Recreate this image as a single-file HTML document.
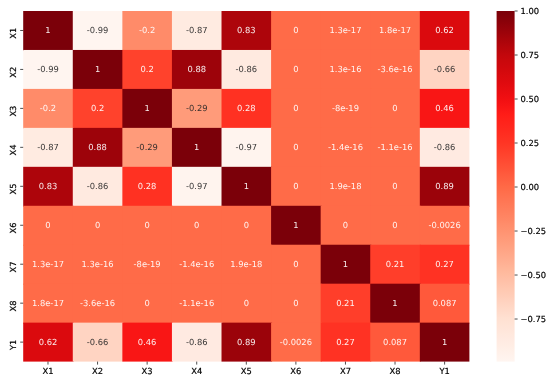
<!DOCTYPE html>
<html><head><meta charset="utf-8"><title>Correlation heatmap</title>
<style>
html,body{margin:0;padding:0;background:#fff;}
body{width:550px;height:380px;overflow:hidden;}
svg{display:block;}
text{font-family:"DejaVu Sans","Liberation Sans",sans-serif;font-size:8.35px;text-rendering:geometricPrecision;}
.a{text-anchor:middle;}
.w{fill:#fff;fill-opacity:.93;}
.d{fill:#262626;fill-opacity:.92;}
.k{fill:#000;stroke:#000;stroke-width:.18px;}
</style></head>
<body>
<svg width="550" height="380" viewBox="0 0 550 380">
<rect x="0" y="0" width="550" height="380" fill="#fff"/>
<defs><linearGradient id="cb" x1="0" y1="0" x2="0" y2="1"><stop offset="0.0000" stop-color="#7b0009"/><stop offset="0.0156" stop-color="#820109"/><stop offset="0.0312" stop-color="#8b0109"/><stop offset="0.0469" stop-color="#94020a"/><stop offset="0.0625" stop-color="#9d030a"/><stop offset="0.0781" stop-color="#a7040a"/><stop offset="0.0938" stop-color="#b0050b"/><stop offset="0.1094" stop-color="#b9060b"/><stop offset="0.1250" stop-color="#c2070c"/><stop offset="0.1406" stop-color="#c9080c"/><stop offset="0.1562" stop-color="#ce080d"/><stop offset="0.1719" stop-color="#d4090d"/><stop offset="0.1875" stop-color="#da0a0e"/><stop offset="0.2031" stop-color="#df0a0f"/><stop offset="0.2188" stop-color="#e50c10"/><stop offset="0.2344" stop-color="#eb0d11"/><stop offset="0.2500" stop-color="#f10f12"/><stop offset="0.2656" stop-color="#f61314"/><stop offset="0.2812" stop-color="#fb1816"/><stop offset="0.2969" stop-color="#ff1d18"/><stop offset="0.3125" stop-color="#ff221a"/><stop offset="0.3281" stop-color="#ff261d"/><stop offset="0.3438" stop-color="#ff2b1f"/><stop offset="0.3594" stop-color="#ff3022"/><stop offset="0.3750" stop-color="#ff3524"/><stop offset="0.3906" stop-color="#ff3b28"/><stop offset="0.4062" stop-color="#ff422c"/><stop offset="0.4219" stop-color="#ff4831"/><stop offset="0.4375" stop-color="#ff4f35"/><stop offset="0.4531" stop-color="#ff5539"/><stop offset="0.4688" stop-color="#ff5c3e"/><stop offset="0.4844" stop-color="#ff6242"/><stop offset="0.5000" stop-color="#ff6946"/><stop offset="0.5156" stop-color="#ff6e4b"/><stop offset="0.5312" stop-color="#ff7351"/><stop offset="0.5469" stop-color="#ff7856"/><stop offset="0.5625" stop-color="#ff7d5b"/><stop offset="0.5781" stop-color="#ff8260"/><stop offset="0.5938" stop-color="#ff8765"/><stop offset="0.6094" stop-color="#ff8d6b"/><stop offset="0.6250" stop-color="#ff9270"/><stop offset="0.6406" stop-color="#ff9776"/><stop offset="0.6562" stop-color="#ff9c7b"/><stop offset="0.6719" stop-color="#ffa181"/><stop offset="0.6875" stop-color="#ffa687"/><stop offset="0.7031" stop-color="#ffab8d"/><stop offset="0.7188" stop-color="#ffb093"/><stop offset="0.7344" stop-color="#ffb699"/><stop offset="0.7500" stop-color="#ffbb9f"/><stop offset="0.7656" stop-color="#ffbfa6"/><stop offset="0.7812" stop-color="#ffc4ac"/><stop offset="0.7969" stop-color="#ffc9b2"/><stop offset="0.8125" stop-color="#ffcdb8"/><stop offset="0.8281" stop-color="#ffd2bf"/><stop offset="0.8438" stop-color="#ffd7c5"/><stop offset="0.8594" stop-color="#ffdbcb"/><stop offset="0.8750" stop-color="#ffe0d1"/><stop offset="0.8906" stop-color="#ffe3d5"/><stop offset="0.9062" stop-color="#ffe5d9"/><stop offset="0.9219" stop-color="#ffe8dd"/><stop offset="0.9375" stop-color="#ffeae1"/><stop offset="0.9531" stop-color="#ffede4"/><stop offset="0.9688" stop-color="#fff0e8"/><stop offset="0.9844" stop-color="#fff2ec"/><stop offset="1.0000" stop-color="#fff5f0"/></linearGradient></defs>
<g>
<rect x="23.20" y="11.00" width="50.58" height="39.96" fill="#7b0009"/>
<rect x="72.78" y="11.00" width="50.58" height="39.96" fill="#fff5f0"/>
<rect x="122.36" y="11.00" width="50.58" height="39.96" fill="#ff8b69"/>
<rect x="171.93" y="11.00" width="50.58" height="39.96" fill="#ffebe1"/>
<rect x="221.51" y="11.00" width="50.58" height="39.96" fill="#ad050b"/>
<rect x="271.09" y="11.00" width="50.58" height="39.96" fill="#ff6b48"/>
<rect x="320.67" y="11.00" width="50.58" height="39.96" fill="#ff6b48"/>
<rect x="370.24" y="11.00" width="50.58" height="39.96" fill="#ff6b48"/>
<rect x="419.82" y="11.00" width="49.58" height="39.96" fill="#db0a0e"/>
<rect x="23.20" y="49.96" width="50.58" height="39.96" fill="#fff5f0"/>
<rect x="72.78" y="49.96" width="50.58" height="39.96" fill="#7b0009"/>
<rect x="122.36" y="49.96" width="50.58" height="39.96" fill="#ff422c"/>
<rect x="171.93" y="49.96" width="50.58" height="39.96" fill="#9d030a"/>
<rect x="221.51" y="49.96" width="50.58" height="39.96" fill="#ffeae0"/>
<rect x="271.09" y="49.96" width="50.58" height="39.96" fill="#ff6b48"/>
<rect x="320.67" y="49.96" width="50.58" height="39.96" fill="#ff6b48"/>
<rect x="370.24" y="49.96" width="50.58" height="39.96" fill="#ff6b48"/>
<rect x="419.82" y="49.96" width="49.58" height="39.96" fill="#ffd4c2"/>
<rect x="23.20" y="88.91" width="50.58" height="39.96" fill="#ff8b69"/>
<rect x="72.78" y="88.91" width="50.58" height="39.96" fill="#ff422c"/>
<rect x="122.36" y="88.91" width="50.58" height="39.96" fill="#7b0009"/>
<rect x="171.93" y="88.91" width="50.58" height="39.96" fill="#ff9b7a"/>
<rect x="221.51" y="88.91" width="50.58" height="39.96" fill="#ff3122"/>
<rect x="271.09" y="88.91" width="50.58" height="39.96" fill="#ff6b48"/>
<rect x="320.67" y="88.91" width="50.58" height="39.96" fill="#ff6b48"/>
<rect x="370.24" y="88.91" width="50.58" height="39.96" fill="#ff6b48"/>
<rect x="419.82" y="88.91" width="49.58" height="39.96" fill="#f91615"/>
<rect x="23.20" y="127.87" width="50.58" height="39.96" fill="#ffebe1"/>
<rect x="72.78" y="127.87" width="50.58" height="39.96" fill="#9d030a"/>
<rect x="122.36" y="127.87" width="50.58" height="39.96" fill="#ff9b7a"/>
<rect x="171.93" y="127.87" width="50.58" height="39.96" fill="#7b0009"/>
<rect x="221.51" y="127.87" width="50.58" height="39.96" fill="#fff4ee"/>
<rect x="271.09" y="127.87" width="50.58" height="39.96" fill="#ff6b48"/>
<rect x="320.67" y="127.87" width="50.58" height="39.96" fill="#ff6b48"/>
<rect x="370.24" y="127.87" width="50.58" height="39.96" fill="#ff6b48"/>
<rect x="419.82" y="127.87" width="49.58" height="39.96" fill="#ffeae1"/>
<rect x="23.20" y="166.82" width="50.58" height="39.96" fill="#ad050b"/>
<rect x="72.78" y="166.82" width="50.58" height="39.96" fill="#ffeae0"/>
<rect x="122.36" y="166.82" width="50.58" height="39.96" fill="#ff3122"/>
<rect x="171.93" y="166.82" width="50.58" height="39.96" fill="#fff4ee"/>
<rect x="221.51" y="166.82" width="50.58" height="39.96" fill="#7b0009"/>
<rect x="271.09" y="166.82" width="50.58" height="39.96" fill="#ff6b48"/>
<rect x="320.67" y="166.82" width="50.58" height="39.96" fill="#ff6b48"/>
<rect x="370.24" y="166.82" width="50.58" height="39.96" fill="#ff6b48"/>
<rect x="419.82" y="166.82" width="49.58" height="39.96" fill="#9b030a"/>
<rect x="23.20" y="205.78" width="50.58" height="39.96" fill="#ff6b48"/>
<rect x="72.78" y="205.78" width="50.58" height="39.96" fill="#ff6b48"/>
<rect x="122.36" y="205.78" width="50.58" height="39.96" fill="#ff6b48"/>
<rect x="171.93" y="205.78" width="50.58" height="39.96" fill="#ff6b48"/>
<rect x="221.51" y="205.78" width="50.58" height="39.96" fill="#ff6b48"/>
<rect x="271.09" y="205.78" width="50.58" height="39.96" fill="#7b0009"/>
<rect x="320.67" y="205.78" width="50.58" height="39.96" fill="#ff6b48"/>
<rect x="370.24" y="205.78" width="50.58" height="39.96" fill="#ff6b48"/>
<rect x="419.82" y="205.78" width="49.58" height="39.96" fill="#ff6b48"/>
<rect x="23.20" y="244.73" width="50.58" height="39.96" fill="#ff6b48"/>
<rect x="72.78" y="244.73" width="50.58" height="39.96" fill="#ff6b48"/>
<rect x="122.36" y="244.73" width="50.58" height="39.96" fill="#ff6b48"/>
<rect x="171.93" y="244.73" width="50.58" height="39.96" fill="#ff6b48"/>
<rect x="221.51" y="244.73" width="50.58" height="39.96" fill="#ff6b48"/>
<rect x="271.09" y="244.73" width="50.58" height="39.96" fill="#ff6b48"/>
<rect x="320.67" y="244.73" width="50.58" height="39.96" fill="#7b0009"/>
<rect x="370.24" y="244.73" width="50.58" height="39.96" fill="#ff3e2a"/>
<rect x="419.82" y="244.73" width="49.58" height="39.96" fill="#ff3223"/>
<rect x="23.20" y="283.69" width="50.58" height="39.96" fill="#ff6b48"/>
<rect x="72.78" y="283.69" width="50.58" height="39.96" fill="#ff6b48"/>
<rect x="122.36" y="283.69" width="50.58" height="39.96" fill="#ff6b48"/>
<rect x="171.93" y="283.69" width="50.58" height="39.96" fill="#ff6b48"/>
<rect x="221.51" y="283.69" width="50.58" height="39.96" fill="#ff6b48"/>
<rect x="271.09" y="283.69" width="50.58" height="39.96" fill="#ff6b48"/>
<rect x="320.67" y="283.69" width="50.58" height="39.96" fill="#ff3e2a"/>
<rect x="370.24" y="283.69" width="50.58" height="39.96" fill="#7b0009"/>
<rect x="419.82" y="283.69" width="49.58" height="39.96" fill="#ff593b"/>
<rect x="23.20" y="322.64" width="50.58" height="38.96" fill="#db0a0e"/>
<rect x="72.78" y="322.64" width="50.58" height="38.96" fill="#ffd4c2"/>
<rect x="122.36" y="322.64" width="50.58" height="38.96" fill="#f91615"/>
<rect x="171.93" y="322.64" width="50.58" height="38.96" fill="#ffeae1"/>
<rect x="221.51" y="322.64" width="50.58" height="38.96" fill="#9b030a"/>
<rect x="271.09" y="322.64" width="50.58" height="38.96" fill="#ff6b48"/>
<rect x="320.67" y="322.64" width="50.58" height="38.96" fill="#ff3223"/>
<rect x="370.24" y="322.64" width="50.58" height="38.96" fill="#ff593b"/>
<rect x="419.82" y="322.64" width="49.58" height="38.96" fill="#7b0009"/>
</g>
<g class="a">
<text class="w" x="47.99" y="32.93">1</text>
<text class="d" x="97.57" y="32.93">-0.99</text>
<text class="w" x="147.14" y="32.93">-0.2</text>
<text class="d" x="196.72" y="32.93">-0.87</text>
<text class="w" x="246.30" y="32.93">0.83</text>
<text class="w" x="295.88" y="32.93">0</text>
<text class="w" x="345.46" y="32.93">1.3e-17</text>
<text class="w" x="395.03" y="32.93">1.8e-17</text>
<text class="w" x="444.61" y="32.93">0.62</text>
<text class="d" x="47.99" y="71.88">-0.99</text>
<text class="w" x="97.57" y="71.88">1</text>
<text class="w" x="147.14" y="71.88">0.2</text>
<text class="w" x="196.72" y="71.88">0.88</text>
<text class="d" x="246.30" y="71.88">-0.86</text>
<text class="w" x="295.88" y="71.88">0</text>
<text class="w" x="345.46" y="71.88">1.3e-16</text>
<text class="w" x="395.03" y="71.88">-3.6e-16</text>
<text class="d" x="444.61" y="71.88">-0.66</text>
<text class="w" x="47.99" y="110.84">-0.2</text>
<text class="w" x="97.57" y="110.84">0.2</text>
<text class="w" x="147.14" y="110.84">1</text>
<text class="d" x="196.72" y="110.84">-0.29</text>
<text class="w" x="246.30" y="110.84">0.28</text>
<text class="w" x="295.88" y="110.84">0</text>
<text class="w" x="345.46" y="110.84">-8e-19</text>
<text class="w" x="395.03" y="110.84">0</text>
<text class="w" x="444.61" y="110.84">0.46</text>
<text class="d" x="47.99" y="149.79">-0.87</text>
<text class="w" x="97.57" y="149.79">0.88</text>
<text class="d" x="147.14" y="149.79">-0.29</text>
<text class="w" x="196.72" y="149.79">1</text>
<text class="d" x="246.30" y="149.79">-0.97</text>
<text class="w" x="295.88" y="149.79">0</text>
<text class="w" x="345.46" y="149.79">-1.4e-16</text>
<text class="w" x="395.03" y="149.79">-1.1e-16</text>
<text class="d" x="444.61" y="149.79">-0.86</text>
<text class="w" x="47.99" y="188.75">0.83</text>
<text class="d" x="97.57" y="188.75">-0.86</text>
<text class="w" x="147.14" y="188.75">0.28</text>
<text class="d" x="196.72" y="188.75">-0.97</text>
<text class="w" x="246.30" y="188.75">1</text>
<text class="w" x="295.88" y="188.75">0</text>
<text class="w" x="345.46" y="188.75">1.9e-18</text>
<text class="w" x="395.03" y="188.75">0</text>
<text class="w" x="444.61" y="188.75">0.89</text>
<text class="w" x="47.99" y="227.71">0</text>
<text class="w" x="97.57" y="227.71">0</text>
<text class="w" x="147.14" y="227.71">0</text>
<text class="w" x="196.72" y="227.71">0</text>
<text class="w" x="246.30" y="227.71">0</text>
<text class="w" x="295.88" y="227.71">1</text>
<text class="w" x="345.46" y="227.71">0</text>
<text class="w" x="395.03" y="227.71">0</text>
<text class="w" x="444.61" y="227.71">-0.0026</text>
<text class="w" x="47.99" y="266.66">1.3e-17</text>
<text class="w" x="97.57" y="266.66">1.3e-16</text>
<text class="w" x="147.14" y="266.66">-8e-19</text>
<text class="w" x="196.72" y="266.66">-1.4e-16</text>
<text class="w" x="246.30" y="266.66">1.9e-18</text>
<text class="w" x="295.88" y="266.66">0</text>
<text class="w" x="345.46" y="266.66">1</text>
<text class="w" x="395.03" y="266.66">0.21</text>
<text class="w" x="444.61" y="266.66">0.27</text>
<text class="w" x="47.99" y="305.62">1.8e-17</text>
<text class="w" x="97.57" y="305.62">-3.6e-16</text>
<text class="w" x="147.14" y="305.62">0</text>
<text class="w" x="196.72" y="305.62">-1.1e-16</text>
<text class="w" x="246.30" y="305.62">0</text>
<text class="w" x="295.88" y="305.62">0</text>
<text class="w" x="345.46" y="305.62">0.21</text>
<text class="w" x="395.03" y="305.62">1</text>
<text class="w" x="444.61" y="305.62">0.087</text>
<text class="w" x="47.99" y="344.57">0.62</text>
<text class="d" x="97.57" y="344.57">-0.66</text>
<text class="w" x="147.14" y="344.57">0.46</text>
<text class="d" x="196.72" y="344.57">-0.86</text>
<text class="w" x="246.30" y="344.57">0.89</text>
<text class="w" x="295.88" y="344.57">-0.0026</text>
<text class="w" x="345.46" y="344.57">0.27</text>
<text class="w" x="395.03" y="344.57">0.087</text>
<text class="w" x="444.61" y="344.57">1</text>
</g>
<g stroke="#000" stroke-width="0.7">
<line x1="20.20" y1="30.48" x2="23.20" y2="30.48"/>
<line x1="47.99" y1="361.60" x2="47.99" y2="364.60"/>
<line x1="20.20" y1="69.43" x2="23.20" y2="69.43"/>
<line x1="97.57" y1="361.60" x2="97.57" y2="364.60"/>
<line x1="20.20" y1="108.39" x2="23.20" y2="108.39"/>
<line x1="147.14" y1="361.60" x2="147.14" y2="364.60"/>
<line x1="20.20" y1="147.34" x2="23.20" y2="147.34"/>
<line x1="196.72" y1="361.60" x2="196.72" y2="364.60"/>
<line x1="20.20" y1="186.30" x2="23.20" y2="186.30"/>
<line x1="246.30" y1="361.60" x2="246.30" y2="364.60"/>
<line x1="20.20" y1="225.26" x2="23.20" y2="225.26"/>
<line x1="295.88" y1="361.60" x2="295.88" y2="364.60"/>
<line x1="20.20" y1="264.21" x2="23.20" y2="264.21"/>
<line x1="345.46" y1="361.60" x2="345.46" y2="364.60"/>
<line x1="20.20" y1="303.17" x2="23.20" y2="303.17"/>
<line x1="395.03" y1="361.60" x2="395.03" y2="364.60"/>
<line x1="20.20" y1="342.12" x2="23.20" y2="342.12"/>
<line x1="444.61" y1="361.60" x2="444.61" y2="364.60"/>
</g>
<g class="a k">
<text x="47.99" y="373.80">X1</text>
<text transform="translate(15.50 33.18) rotate(-90)" x="0" y="0">X1</text>
<text x="97.57" y="373.80">X2</text>
<text transform="translate(15.50 72.13) rotate(-90)" x="0" y="0">X2</text>
<text x="147.14" y="373.80">X3</text>
<text transform="translate(15.50 111.09) rotate(-90)" x="0" y="0">X3</text>
<text x="196.72" y="373.80">X4</text>
<text transform="translate(15.50 150.04) rotate(-90)" x="0" y="0">X4</text>
<text x="246.30" y="373.80">X5</text>
<text transform="translate(15.50 189.00) rotate(-90)" x="0" y="0">X5</text>
<text x="295.88" y="373.80">X6</text>
<text transform="translate(15.50 227.96) rotate(-90)" x="0" y="0">X6</text>
<text x="345.46" y="373.80">X7</text>
<text transform="translate(15.50 266.91) rotate(-90)" x="0" y="0">X7</text>
<text x="395.03" y="373.80">X8</text>
<text transform="translate(15.50 305.87) rotate(-90)" x="0" y="0">X8</text>
<text x="444.61" y="373.80">Y1</text>
<text transform="translate(15.50 344.82) rotate(-90)" x="0" y="0">Y1</text>
</g>
<rect x="496.60" y="11.00" width="18.00" height="350.60" fill="url(#cb)"/>
<g stroke="#000" stroke-width="0.7">
<line x1="514.60" y1="11.00" x2="517.60" y2="11.00"/>
<line x1="514.60" y1="55.00" x2="517.60" y2="55.00"/>
<line x1="514.60" y1="99.01" x2="517.60" y2="99.01"/>
<line x1="514.60" y1="143.01" x2="517.60" y2="143.01"/>
<line x1="514.60" y1="187.01" x2="517.60" y2="187.01"/>
<line x1="514.60" y1="231.02" x2="517.60" y2="231.02"/>
<line x1="514.60" y1="275.02" x2="517.60" y2="275.02"/>
<line x1="514.60" y1="319.02" x2="517.60" y2="319.02"/>
</g>
<g class="k">
<text x="520.50" y="14.25">1.00</text>
<text x="520.50" y="58.25">0.75</text>
<text x="520.50" y="102.26">0.50</text>
<text x="520.50" y="146.26">0.25</text>
<text x="520.50" y="190.26">0.00</text>
<text x="520.50" y="234.27">−0.25</text>
<text x="520.50" y="278.27">−0.50</text>
<text x="520.50" y="322.27">−0.75</text>
</g>
</svg>
</body></html>
